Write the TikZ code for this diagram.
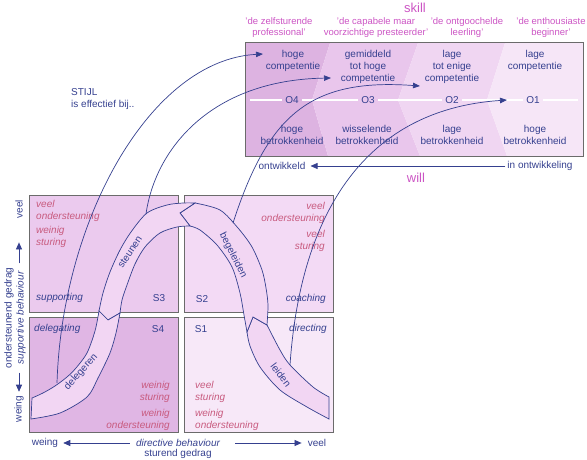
\documentclass[tikz,border=0pt]{standalone}
\usepackage{fontspec}
\setmainfont{Liberation Sans}
\usetikzlibrary{arrows.meta, positioning, calc}
\definecolor{navy}{HTML}{35408F}
\definecolor{rose}{HTML}{C85A7E}
\definecolor{orchid}{HTML}{CC55C4}
\definecolor{framegray}{HTML}{6B6B6B}
\definecolor{cfour}{HTML}{DDB3E1}
\definecolor{cthree}{HTML}{E9C6EC}
\definecolor{ctwo}{HTML}{F0D6F2}
\definecolor{cone}{HTML}{F6E6F7}
\definecolor{sfour}{HTML}{E0B6E4}
\definecolor{sthree}{HTML}{EBCAEE}
\definecolor{stwo}{HTML}{F3DAF5}
\definecolor{sone}{HTML}{F7E8F8}
\definecolor{bandfill}{HTML}{F2D6F3}

\begin{document}
\begin{tikzpicture}[
    x=1pt, y=-1pt,
    every node/.style={font=\fontsize{10}{12}\selectfont, text=navy, inner sep=0pt},
    quad/.style={draw=framegray, line width=0.9pt, minimum width=149pt},
    hint/.style={font=\fontsize{10}{12}\selectfont\itshape, text=rose},
    style/.style={font=\fontsize{10}{12}\selectfont\itshape},
    persona/.style={font=\fontsize{9.5}{11}\selectfont, text=orchid, align=center},
    olabel/.style={inner xsep=3pt},
    band/.style={draw=navy, line width=0.7pt, fill=bandfill},
    link/.style={draw=navy, line width=0.7pt, -{Triangle[length=7pt,width=5.5pt]}},
    axis/.style={draw=navy, line width=0.7pt, -{Triangle[length=7pt,width=6pt]}}
]
\useasboundingbox (0,0) rectangle (587,460);

% skill / will
\fill[cfour] (245,43) -- (330,43) -- (312,100) -- (328,156) -- (245,156) -- cycle;
\fill[cthree] (330,43) -- (418,43) -- (398,100) -- (420,156) -- (328,156) -- (312,100) -- cycle;
\fill[ctwo] (418,43) -- (505,43) -- (487,100) -- (507,156) -- (420,156) -- (398,100) -- cycle;
\fill[cone] (505,43) -- (583,43) -- (583,156) -- (507,156) -- (487,100) -- cycle;
\draw[framegray, line width=1pt] (245,43) rectangle (583,156);

\node[font=\fontsize{13}{15}\selectfont, text=orchid] (skill) at (415,8) {skill};
\node[persona] (p4) at (279,27.5) {'de zelfsturende\\professional'};
\node[persona] (p3) at (376,27.5) {'de capabele maar\\voorzichtige presteerder'};
\node[persona] (p2) at (467,27.5) {'de ontgoochelde\\leerling'};
\node[persona] (p1) at (551,27.5) {'de enthousiaste\\beginner'};

\node[align=center] (c4) at (293,61) {hoge\\competentie};
\node[align=center] (c3) at (368,67) {gemiddeld\\tot hoge\\competentie};
\node[align=center] (c2) at (452,67) {lage\\tot enige\\competentie};
\node[align=center] (c1) at (535,61) {lage\\competentie};

\coordinate (ruleL) at (250,100);
\coordinate (ruleR) at (578,100);
\node[olabel] (o4) at (292,100) {O4};
\node[olabel] (o3) at (368,100) {O3};
\node[olabel] (o2) at (452,100) {O2};
\node[olabel] (o1) at (533,100) {O1};
\draw[white, line width=1.2pt] (ruleL) -- (o4.west) (o4.east) -- (o3.west)
    (o3.east) -- (o2.west) (o2.east) -- (o1.west) (o1.east) -- (ruleR);

\node[align=center] (b4) at (292,135) {hoge\\betrokkenheid};
\node[align=center] (b3) at (367,135) {wisselende\\betrokkenheid};
\node[align=center] (b2) at (452,135) {lage\\betrokkenheid};
\node[align=center] (b1) at (535,135) {hoge\\betrokkenheid};

\node (ow) at (282,166) {ontwikkeld};
\node (iw) at (540,166) {in ontwikkeling};
\draw[axis, shorten <=2pt, shorten >=5pt] (iw) -- (ow);
\node[font=\fontsize{13}{15}\selectfont, text=orchid] (will) at (416,178) {will};

\node[align=left, anchor=west] (stijl) at (71,99.5) {STIJL\\is effectief bij..};

% kwadranten
\node[quad, fill=sthree, minimum height=117pt] (s3) at (103.5,253.5) {};
\node[quad, fill=stwo, minimum height=117pt] (s2) at (258.5,253.5) {};
\node[quad, fill=sfour, minimum height=115pt] (s4) at (103.5,374.5) {};
\node[quad, fill=sone, minimum height=115pt] (s1) at (258.5,374.5) {};

\node[hint, align=left, anchor=west] (h3a) at (36,210.5) {veel\\ondersteuning};
\node[hint, align=left, anchor=west] (h3b) at (36,236.5) {weinig\\sturing};
\node[style, anchor=west] (n3) at (36,298) {supporting};
\node (k3) at (159,298) {S3};

\node[hint, align=right, anchor=east] (h2a) at (325,213) {veel\\ondersteuning};
\node[hint, align=right, anchor=east] (h2b) at (325,241) {veel\\sturing};
\node (k2) at (202,299) {S2};
\node[style, anchor=east] (n2) at (326,299) {coaching};

\node[style, anchor=west] (n4) at (34,329) {delegating};
\node (k4) at (158,329) {S4};
\node[hint, align=right, anchor=east] (h4a) at (170,391.5) {weinig\\sturing};
\node[hint, align=right, anchor=east] (h4b) at (170,419.5) {weinig\\ondersteuning};

\node (k1) at (201,329) {S1};
\node[style, anchor=east] (n1) at (327,329) {directing};
\node[hint, align=left, anchor=west] (h1a) at (195,391.5) {veel\\sturing};
\node[hint, align=left, anchor=west] (h1b) at (195,419.5) {weinig\\ondersteuning};

% boog
\draw[band] plot[smooth] coordinates {(329,397) (313,387) (290,365) (280,350) (267,325)}
    -- (253,317) -- plot[smooth] coordinates {(247,332) (250,346) (260,367) (280,390) (307,407) (329,419)} -- cycle;
\draw[band] plot[smooth] coordinates {(267,325) (268,305) (266,288) (262,270) (252,247) (238,228) (220,210) (195,203)}
    -- (180,213) -- plot[smooth] coordinates {(190,226) (200,230) (217,245) (232,267) (240,293) (244,315) (247,332)}
    -- (253,317) -- cycle;
\draw[band] plot[smooth] coordinates {(195,203) (183,203) (167,205) (147,213) (131,232) (120,250) (110,272) (103,293) (99,311)}
    -- (108,320) -- plot[smooth] coordinates {(120,313) (122,300) (127,285) (135,264) (145,247) (160,233) (177,227) (190,226)}
    -- (180,213) -- cycle;
\draw[band] plot[smooth] coordinates {(99,311) (95,331) (87,353) (76,368) (67,377) (55,386) (43,393) (32,398)}
    -- plot[smooth] coordinates {(31,419) (60,413) (87,397) (98,378) (110,353) (116,333) (120,313)}
    -- (108,320) -- cycle;

\node[rotate=56] (lsteun) at (130,252) {steunen};
\node[rotate=-63] (lbeg) at (233,255) {begeleiden};
\node[rotate=48] (ldel) at (81,372) {delegeren};
\node[rotate=-53] (lleid) at (281,375) {leiden};

% verbindingen
\coordinate (fromA) at (57,383);
\coordinate (fromB) at (146,214);
\coordinate (fromC) at (233,223);
\coordinate (fromD) at (290,365);
\coordinate (toA) at (263,54);
\coordinate (toB) at (331,78);
\coordinate (toC) at (420,86);
\coordinate (toD) at (507,100);
\draw[link] (fromA) .. controls (62,220) and (150,60) .. (toA);
\draw[link] (fromB) .. controls (155,150) and (210,80) .. (toB);
\draw[link] (fromC) .. controls (268,115) and (310,78) .. (toC);
\draw[link] (fromD) .. controls (300,220) and (360,110) .. (toD);

% assen
\node[rotate=90] (ogl) at (9,318) {ondersteunend gedrag};
\node[rotate=90, style] (sbl) at (21,318) {supportive behaviour};
\node[rotate=90] (vtop) at (19,209) {veel};
\node[rotate=90] (wbot) at (19,409) {weing};
\draw[axis, shorten <=8pt, shorten >=24pt] (vtop |- sbl.east) -- (vtop);
\draw[axis, shorten <=8pt, shorten >=4pt] (wbot |- sbl.west) -- (wbot);

\node (wl) at (45,443) {weing};
\node[style] (dbl) at (178,443) {directive behaviour};
\node (vr) at (317,443) {veel};
\node (sgl) at (178,454) {sturend gedrag};
\draw[axis, shorten <=6pt, shorten >=5pt] (dbl) -- (wl);
\draw[axis, shorten <=15pt, shorten >=6pt] (dbl) -- (vr);
\end{tikzpicture}
\end{document}
